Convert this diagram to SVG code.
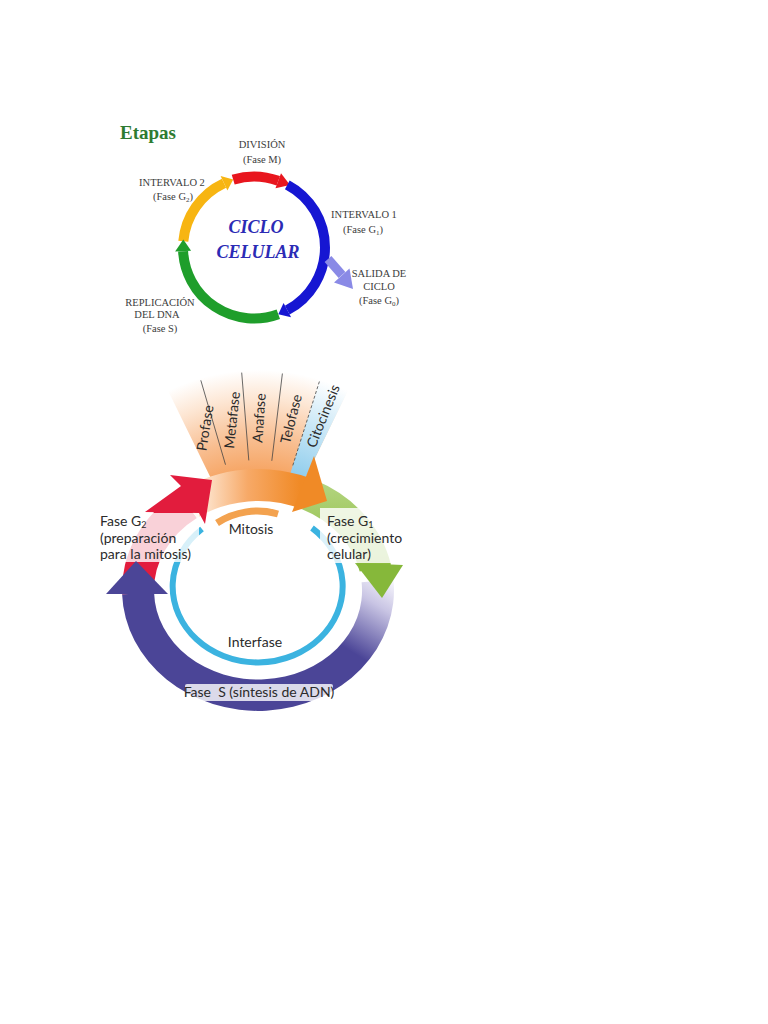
<svg xmlns="http://www.w3.org/2000/svg" width="768" height="1024" viewBox="0 0 768 1024">
<style>
.serif{font-family:"Liberation Serif","Times New Roman",serif;fill:#3c3c3c;font-size:10.5px;text-anchor:middle}
.sans{font-family:Lato,"Open Sans",sans-serif;fill:#2b2b2b;font-size:14px}
.ph{font-family:Lato,"Open Sans",sans-serif;fill:#2b2b2b;font-size:14px;text-anchor:middle}
.ring{fill:none;stroke-width:10}
.div{stroke:#444;stroke-width:0.8}
</style>
<defs>
<radialGradient id="fanG" gradientUnits="userSpaceOnUse" cx="258" cy="575" r="205">
<stop offset="0.5" stop-color="#f6a462"/>
<stop offset="0.66" stop-color="#f8bd8f"/>
<stop offset="0.86" stop-color="#fde6d3"/>
<stop offset="1" stop-color="#ffffff"/>
</radialGradient>
<radialGradient id="citoG" gradientUnits="userSpaceOnUse" cx="258" cy="575" r="205">
<stop offset="0.5" stop-color="#8ccbec"/>
<stop offset="0.7" stop-color="#b9e0f4"/>
<stop offset="0.9" stop-color="#e6f4fb"/>
<stop offset="1" stop-color="#ffffff"/>
</radialGradient>
<linearGradient id="orG" gradientUnits="userSpaceOnUse" x1="205" y1="0" x2="300" y2="0">
<stop offset="0" stop-color="#fde3cc"/>
<stop offset="0.45" stop-color="#f7a967"/>
<stop offset="1" stop-color="#f08a26"/>
</linearGradient>
<linearGradient id="grG" gradientUnits="userSpaceOnUse" x1="0" y1="470" x2="0" y2="565">
<stop offset="0" stop-color="#b9d88a"/>
<stop offset="1" stop-color="#8cbc3e"/>
</linearGradient>
<linearGradient id="puG" gradientUnits="userSpaceOnUse" x1="395" y1="582" x2="352" y2="652">
<stop offset="0" stop-color="#f7f6fc"/>
<stop offset="0.35" stop-color="#c9c5e4"/>
<stop offset="1" stop-color="#4b4597"/>
</linearGradient>
</defs>

<!-- ===== Top diagram ===== -->
<g id="title">
<text x="120" y="139" style="font-family:'Liberation Serif','Times New Roman',serif;font-weight:bold;font-size:19px;fill:#2e7b32">Etapas</text>
</g>
<g id="fase-g2-top">
<path class="ring" stroke="#f7b512" d="M183.3,241.3 A71,71 0 0 1 224,183.2"/>
<polygon fill="#f7b512" points="227.4,190.4 220.6,175.9 233.2,179.6"/>
<text class="serif" x="172" y="186">INTERVALO 2</text>
<text class="serif" x="173" y="200">(Fase G<tspan font-size="7" dy="2">2</tspan><tspan dy="-2">)</tspan></text>
</g>
<g id="fase-m-top">
<path class="ring" stroke="#e8161e" d="M233.2,179.6 A71,71 0 0 1 278.3,180.8"/>
<polygon fill="#e8161e" points="275.5,188.3 281,173.3 290,185"/>
<text class="serif" x="262" y="148">DIVISIÓN</text>
<text class="serif" x="262" y="163">(Fase M)</text>
</g>
<g id="fase-g1-top">
<path class="ring" stroke="#1616d2" d="M287.3,184.8 A71,71 0 0 1 287.3,310.2"/>
<polygon fill="#1616d2" points="283.6,303.1 291.1,317.2 278.3,314.2"/>
<text class="serif" x="364" y="218">INTERVALO 1</text>
<text class="serif" x="363" y="233">(Fase G<tspan font-size="7" dy="2">1</tspan><tspan dy="-2">)</tspan></text>
</g>
<g id="fase-s-top">
<path class="ring" stroke="#1f9e2b" d="M278.3,314.2 A71,71 0 0 1 183.1,251.2"/>
<polygon fill="#1f9e2b" points="191.1,250.8 175.1,251.6 183.3,239.5"/>
<text class="serif" x="160" y="306">REPLICACIÓN</text>
<text class="serif" x="157" y="318">DEL DNA</text>
<text class="serif" x="160" y="332">(Fase S)</text>
</g>
<g id="centro-top">
<text x="256" y="233" style="font-family:'Liberation Serif','Times New Roman',serif;font-weight:bold;font-style:italic;font-size:18px;fill:#2b2bb5;text-anchor:middle">CICLO</text>
<text x="258" y="258" style="font-family:'Liberation Serif','Times New Roman',serif;font-weight:bold;font-style:italic;font-size:18px;fill:#2b2bb5;text-anchor:middle">CELULAR</text>
</g>
<g id="salida-g0">
<text class="serif" x="379" y="277">SALIDA DE</text>
<text class="serif" x="379" y="290">CICLO</text>
<text class="serif" x="379" y="304">(Fase G<tspan font-size="7" dy="2">0</tspan><tspan dy="-2">)</tspan></text>
</g>
<g id="connectors">
<line x1="328" y1="259" x2="342" y2="275" stroke="#8a8ae6" stroke-width="9"/>
<polygon fill="#8a8ae6" points="349.5,268.5 334,282.5 353,289"/>
</g>

<!-- ===== Bottom diagram ===== -->
<g id="mitosis-fan">
<path fill="url(#fanG)" d="M212,480.6 L168.1,390.7 A205,205 0 0 1 347.9,390.7 L304,480.6 A105,105 0 0 0 212,480.6 Z"/>
<path fill="url(#citoG)" d="M289.8,474.9 L320,379.6 A205,205 0 0 1 347.9,390.7 L304,480.6 A105,105 0 0 0 289.8,474.9 Z"/>
<line class="div" x1="225.5" y1="464.7" x2="200.8" y2="380.3"/>
<line class="div" x1="248.8" y1="460.4" x2="241.7" y2="372.6"/>
<line class="div" x1="271.8" y1="460.8" x2="282.4" y2="373.5"/>
<line class="div" x1="292.8" y1="465.4" x2="319.4" y2="381.5" stroke-dasharray="3,2"/>
<text class="ph" transform="translate(205,428) rotate(-81)" dy="5">Profase</text>
<text class="ph" transform="translate(232,420) rotate(-84)" dy="5">Metafase</text>
<text class="ph" transform="translate(259,418) rotate(-86)" dy="5">Anafase</text>
<text class="ph" transform="translate(291,419) rotate(-76)" dy="5">Telofase</text>
<text class="ph" transform="translate(323,416) rotate(-68)" dy="5">Citocinesis</text>
</g>

<g id="interfase">
<path fill="none" stroke="#3bb3e0" stroke-width="6" d="M202,529 A85,76 0 1 0 312,528"/>
<text class="sans" x="255" y="647" text-anchor="middle" font-size="13">Interfase</text>
</g>
<g id="mitosis">
<path fill="none" stroke="#f3a24f" stroke-width="7" d="M217,523 A74,74 0 0 1 278,514"/>
<text class="sans" x="251" y="534" text-anchor="middle" font-size="13">Mitosis</text>
</g>

<g id="fase-s">
<path fill="url(#puG)" d="M393.5,579.4 A136,121 0 1 1 122.1,594.2 L154.1,593.1 A104,89 0 1 0 361.6,582.2 Z"/>
</g>
<g id="fase-g2">
<path fill="#e21c3d" d="M122.1,594.2 A136,121 0 0 1 178.1,492.1 L196.9,518 A104,89 0 0 0 154.1,593.1 Z"/>
</g>
<g id="fase-m">
<path fill="url(#orG)" d="M178.1,492.1 A136,121 0 0 1 315.5,480.3 L302,509.3 A104,89 0 0 0 196.9,518 Z"/>
</g>
<g id="fase-g1">
<path fill="url(#grG)" d="M315.5,480.3 A136,121 0 0 1 391,564.8 L359.7,571.5 A104,89 0 0 0 302,509.3 Z"/>
</g>

<!-- text panels -->
<rect x="96" y="513" width="103" height="49" fill="#ffffff" fill-opacity="0.8"/>
<rect x="320" y="508" width="86" height="55" fill="#ffffff" fill-opacity="0.82"/>
<rect x="185" y="684" width="148" height="17" rx="2" fill="#ffffff" fill-opacity="0.8"/>

<!-- arrow heads -->
<polygon fill="#4b4597" points="106,594 136,561 168,594"/>
<polygon fill="#e21c3d" points="145,512 181,486 170,475 212,480 205,524 199,513"/>
<polygon fill="#f08a26" points="314,456 327,501 292,512"/>
<polygon fill="#86b83a" points="355,563 403,565 382,598"/>

<g id="labels">
<text class="sans" x="100" y="526">Fase G<tspan font-size="9" dy="1.5">2</tspan></text>
<text class="sans" x="100" y="543">(preparación</text>
<text class="sans" x="100" y="559">para la mitosis)</text>
<text class="sans" x="327" y="526">Fase G<tspan font-size="9" dy="1.5">1</tspan></text>
<text class="sans" x="327" y="543">(crecimiento</text>
<text class="sans" x="327" y="559">celular)</text>
<text class="sans" x="259" y="697" text-anchor="middle" font-size="13" style="white-space:pre">Fase  S (síntesis de ADN)</text>
</g>
</svg>
